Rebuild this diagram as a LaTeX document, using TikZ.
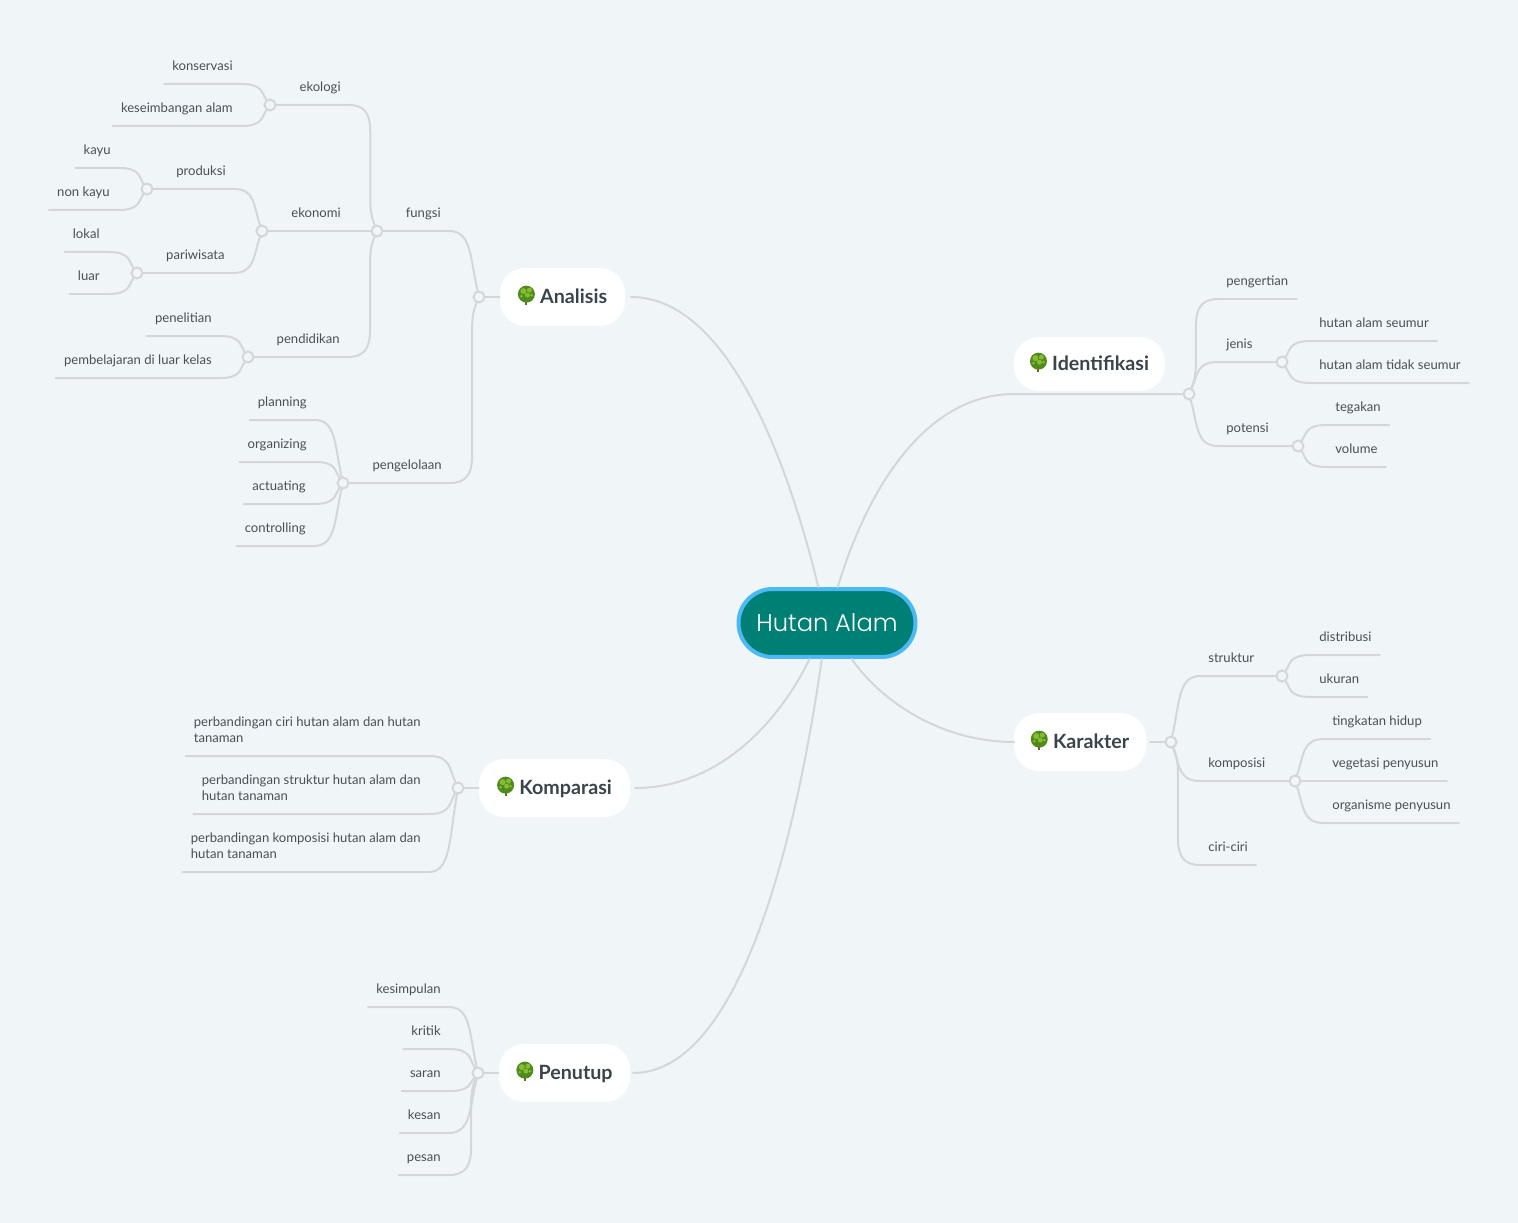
\documentclass[tikz,border=0pt]{standalone}
\usepackage{fontspec}
\usetikzlibrary{calc}
\setmainfont{Lato}
\newfontfamily\rootface{Poppins Light}
\definecolor{paper}{HTML}{F0F5F8}
\definecolor{twiggray}{HTML}{D3D7DA}
\definecolor{leafink}{HTML}{4A5056}
\definecolor{topicink}{HTML}{3B444B}
\definecolor{rootfill}{HTML}{008075}
\definecolor{rootring}{HTML}{4CB9F5}
\definecolor{crown}{HTML}{4F8A1C}
\definecolor{crownlit}{HTML}{86BC34}
\definecolor{trunk}{HTML}{7A5A30}
\newcommand{\treeicon}{\begin{tikzpicture}[x=.02cm,y=-.02cm,baseline={(0,9)},sharp corners]
\fill[trunk] (-1,5) rectangle (1,10.7);
\fill[crown] (0,0) circle [radius=8.5];
\fill[crownlit] (-3,-3) circle [radius=3];
\fill[crownlit] (3,-4) circle [radius=2.5];
\fill[crownlit] (1,1) circle [radius=2.5];
\fill[crownlit] (-5,2) circle [radius=1.5];
\fill[crownlit] (5,1) circle [radius=1.5];
\end{tikzpicture}}
\tikzset{
  twig/.style={line width=.04cm, draw=twiggray, line cap=round},
  curved/.style={to path={let \p1=(\tikztostart), \p2=(\tikztotarget) in
    .. controls ({\x1+.3*(\x2-\x1)},{\y1+.6*(\y2-\y1)}) and ({\x1+.25*(\x2-\x1)},\y2) .. (\tikztotarget)}},
  longcurved/.style={to path={let \p1=(\tikztostart), \p2=(\tikztotarget), \n1={\y2>\y1 ? 1 : -1} in
    .. controls ({\x1+.15*(\x2-\x1)},{\y1+\n1*6pt}) and ({\x1+.24*(\x2-\x1)},{\y1+\n1*10pt}) .. ({\x1+.24*(\x2-\x1)},{\y1+\n1*18pt})
    -- ({\x1+.24*(\x2-\x1)},{\y2-\n1*15pt})
    .. controls ({\x1+.24*(\x2-\x1)},{\y2-\n1*5pt}) and ({\x1+.45*(\x2-\x1)},\y2) .. (\tikztotarget)}},
  dot/.style={circle, draw=twiggray, fill=paper, line width=.04cm, minimum size=.22cm, inner sep=0pt},
  leaf/.style={font=\fontsize{7.45pt}{9.07pt}\selectfont, text=leafink, inner xsep=.16cm, inner ysep=5.35pt, text height=6pt, text depth=2pt, align=left},
  leafl/.style={leaf, anchor=south east},
  leafr/.style={leaf, anchor=south west},
  topic/.style={fill=white, rounded corners=.5cm, minimum height=1.16cm, inner sep=0pt, text=topicink, text height=9pt, text depth=2pt, font=\fontsize{11.2pt}{13pt}\selectfont\bfseries},
  rootnode/.style={fill=rootfill, draw=rootring, line width=.08cm, rounded corners=.68cm, minimum width=3.54cm, minimum height=1.36cm, inner sep=0pt, text=white, font=\fontsize{13.8pt}{17pt}\rootface}
}
\begin{document}
\begin{tikzpicture}[x=.02cm,y=-.02cm]
\useasboundingbox (0,0) rectangle (1518,1223);
\fill[paper] (0,0) rectangle (1518,1223);

% main topics
\node[rootnode] (root) at (827,623) {Hutan Alam};
\node[topic, minimum width=2.5cm] (analisis) at (562.5,297) {\treeicon\hspace{3pt}Analisis};
\node[topic, minimum width=3.02cm, minimum height=1.08cm] (identifikasi) at (1089.5,364) {\treeicon\hspace{3pt}Identifikasi};
\node[topic, minimum width=2.64cm] (karakter) at (1080,742) {\treeicon\hspace{3pt}Karakter};
\node[topic, minimum width=3.02cm] (komparasi) at (554.5,788) {\treeicon\hspace{3pt}Komparasi};
\node[topic, minimum width=2.62cm] (penutup) at (564.5,1073) {\treeicon\hspace{3pt}Penutup};

\coordinate (analisisin) at (631,297);
\coordinate (identifikasiin) at (1014,394);
\coordinate (karakterin) at (1014,742);
\coordinate (karakterout) at (1150,742);
\coordinate (komparasiin) at (635,788);
\coordinate (penutupin) at (633,1073);

% junctions
\node[dot] (janalisis) at (479,297) {};
\node[dot] (jfungsi) at (377,231) {};
\node[dot] (jekologi) at (270,105) {};
\node[dot] (jekonomi) at (262,231) {};
\node[dot] (jproduksi) at (147,189) {};
\node[dot] (jpariwisata) at (137,273) {};
\node[dot] (jpendidikan) at (248,357) {};
\node[dot] (jpengelolaan) at (343,483) {};
\node[dot] (jidentifikasi) at (1189,394) {};
\node[dot] (jjenis) at (1282,362) {};
\node[dot] (jpotensi) at (1298,446) {};
\node[dot] (jkarakter) at (1171,742) {};
\node[dot] (jstruktur) at (1282,676) {};
\node[dot] (jkomposisi) at (1295,781) {};
\node[dot] (jkomparasi) at (458,788) {};
\node[dot] (jpenutup) at (478,1073) {};

% analisis
\node[leafl] (fungsi) at (449,231) {fungsi};
\node[leafl] (ekologi) at (349,105) {ekologi};
\node[leafl] (konservasi) at (241,84) {konservasi};
\node[leafl] (keseimbangan) at (241,126) {keseimbangan alam};
\node[leafl] (ekonomi) at (349,231) {ekonomi};
\node[leafl] (produksi) at (234,189) {produksi};
\node[leafl] (kayu) at (119,168) {kayu};
\node[leafl] (nonkayu) at (118,210) {non kayu};
\node[leafl] (pariwisata) at (233,273) {pariwisata};
\node[leafl] (lokal) at (108,252) {lokal};
\node[leafl] (luar) at (108,294) {luar};
\node[leafl] (pendidikan) at (348,357) {pendidikan};
\node[leafl] (penelitian) at (220,336) {penelitian};
\node[leafl] (pembelajaran) at (220,378) {pembelajaran di luar kelas};
\node[leafl] (pengelolaan) at (450,483) {pengelolaan};
\node[leafl] (planning) at (315,420) {planning};
\node[leafl] (organizing) at (315,462) {organizing};
\node[leafl] (actuating) at (314,504) {actuating};
\node[leafl] (controlling) at (314,546) {controlling};

% identifikasi
\node[leafr] (pengertian) at (1218,299) {pengertian};
\node[leafr] (jenis) at (1218,362) {jenis};
\node[leafr] (seumur) at (1311,341) {hutan alam seumur};
\node[leafr] (tidakseumur) at (1311,383) {hutan alam tidak seumur};
\node[leafr] (potensi) at (1218,446) {potensi};
\node[leafr] (tegakan) at (1327,425) {tegakan};
\node[leafr] (volume) at (1327,467) {volume};

% karakter
\node[leafr] (struktur) at (1200,676) {struktur};
\node[leafr] (distribusi) at (1311,655) {distribusi};
\node[leafr] (ukuran) at (1311,697) {ukuran};
\node[leafr] (komposisi) at (1200,781) {komposisi};
\node[leafr] (tingkatan) at (1324,739) {tingkatan hidup};
\node[leafr] (vegetasi) at (1324,781) {vegetasi penyusun};
\node[leafr] (organisme) at (1324,823) {organisme penyusun};
\node[leafr] (ciri) at (1200,865) {ciri-ciri};

% komparasi
\node[leafl] (banciri) at (429,756) {perbandingan ciri hutan alam dan hutan\\tanaman};
\node[leafl] (banstruktur) at (429,814) {perbandingan struktur hutan alam dan\\hutan tanaman};
\node[leafl] (bankomposisi) at (429,872) {perbandingan komposisi hutan alam dan\\hutan tanaman};

% penutup
\node[leafl] (kesimpulan) at (449,1007) {kesimpulan};
\node[leafl] (kritik) at (449,1049) {kritik};
\node[leafl] (saran) at (449,1091) {saran};
\node[leafl] (kesan) at (449,1133) {kesan};
\node[leafl] (pesan) at (449,1175) {pesan};

% connectors from the root
\draw[twig] (root) .. controls (790,470) and (730,297) .. (analisisin);
\draw[twig] (root) .. controls (870,480) and (930,394) .. (identifikasiin) -- (jidentifikasi);
\draw[twig] (root) .. controls (880,700) and (940,742) .. (karakterin);
\draw[twig] (root) .. controls (780,720) and (720,788) .. (komparasiin);
\draw[twig] (root) .. controls (790,880) and (730,1073) .. (penutupin);

\draw[twig] (janalisis) -- (analisis.west);
\draw[twig] (jkarakter) -- (karakterout);
\draw[twig] (jkomparasi) -- (komparasi.west);
\draw[twig] (jpenutup) -- (penutup.west);

% analisis tree
\draw[twig] (janalisis) to[curved] (fungsi.south east) -- (jfungsi);
\draw[twig] (janalisis) to[longcurved] (pengelolaan.south east) -- (jpengelolaan);
\draw[twig] (jfungsi) to[longcurved] (ekologi.south east) -- (jekologi);
\draw[twig] (jfungsi) -- (jekonomi);
\draw[twig] (jfungsi) to[longcurved] (pendidikan.south east) -- (jpendidikan);
\draw[twig] (jekologi) to[curved] (konservasi.south east) -- (konservasi.south west);
\draw[twig] (jekologi) to[curved] (keseimbangan.south east) -- (keseimbangan.south west);
\draw[twig] (jekonomi) to[curved] (produksi.south east) -- (jproduksi);
\draw[twig] (jekonomi) to[curved] (pariwisata.south east) -- (jpariwisata);
\draw[twig] (jproduksi) to[curved] (kayu.south east) -- (kayu.south west);
\draw[twig] (jproduksi) to[curved] (nonkayu.south east) -- (nonkayu.south west);
\draw[twig] (jpariwisata) to[curved] (lokal.south east) -- (lokal.south west);
\draw[twig] (jpariwisata) to[curved] (luar.south east) -- (luar.south west);
\draw[twig] (jpendidikan) to[curved] (penelitian.south east) -- (penelitian.south west);
\draw[twig] (jpendidikan) to[curved] (pembelajaran.south east) -- (pembelajaran.south west);
\draw[twig] (jpengelolaan) to[curved] (planning.south east) -- (planning.south west);
\draw[twig] (jpengelolaan) to[curved] (organizing.south east) -- (organizing.south west);
\draw[twig] (jpengelolaan) to[curved] (actuating.south east) -- (actuating.south west);
\draw[twig] (jpengelolaan) to[curved] (controlling.south east) -- (controlling.south west);

% identifikasi tree
\draw[twig] (jidentifikasi) to[longcurved] (pengertian.south west) -- (pengertian.south east);
\draw[twig] (jidentifikasi) to[curved] (jenis.south west) -- (jjenis);
\draw[twig] (jidentifikasi) to[curved] (potensi.south west) -- (jpotensi);
\draw[twig] (jjenis) to[curved] (seumur.south west) -- (seumur.south east);
\draw[twig] (jjenis) to[curved] (tidakseumur.south west) -- (tidakseumur.south east);
\draw[twig] (jpotensi) to[curved] (tegakan.south west) -- (tegakan.south east);
\draw[twig] (jpotensi) to[curved] (volume.south west) -- (volume.south east);

% karakter tree
\draw[twig] (jkarakter) to[curved] (struktur.south west) -- (jstruktur);
\draw[twig] (jkarakter) to[curved] (komposisi.south west) -- (jkomposisi);
\draw[twig] (jkarakter) to[longcurved] (ciri.south west) -- (ciri.south east);
\draw[twig] (jstruktur) to[curved] (distribusi.south west) -- (distribusi.south east);
\draw[twig] (jstruktur) to[curved] (ukuran.south west) -- (ukuran.south east);
\draw[twig] (jkomposisi) to[curved] (tingkatan.south west) -- (tingkatan.south east);
\draw[twig] (jkomposisi) -- (vegetasi.south east);
\draw[twig] (jkomposisi) to[curved] (organisme.south west) -- (organisme.south east);

% komparasi tree
\draw[twig] (jkomparasi) to[curved] (banciri.south east) -- (banciri.south west);
\draw[twig] (jkomparasi) to[curved] (banstruktur.south east) -- (banstruktur.south west);
\draw[twig] (jkomparasi) to[curved] (bankomposisi.south east) -- (bankomposisi.south west);

% penutup tree
\draw[twig] (jpenutup) to[curved] (kesimpulan.south east) -- (kesimpulan.south west);
\draw[twig] (jpenutup) to[curved] (kritik.south east) -- (kritik.south west);
\draw[twig] (jpenutup) to[curved] (saran.south east) -- (saran.south west);
\draw[twig] (jpenutup) to[curved] (kesan.south east) -- (kesan.south west);
\draw[twig] (jpenutup) to[longcurved] (pesan.south east) -- (pesan.south west);
\end{tikzpicture}
\end{document}
